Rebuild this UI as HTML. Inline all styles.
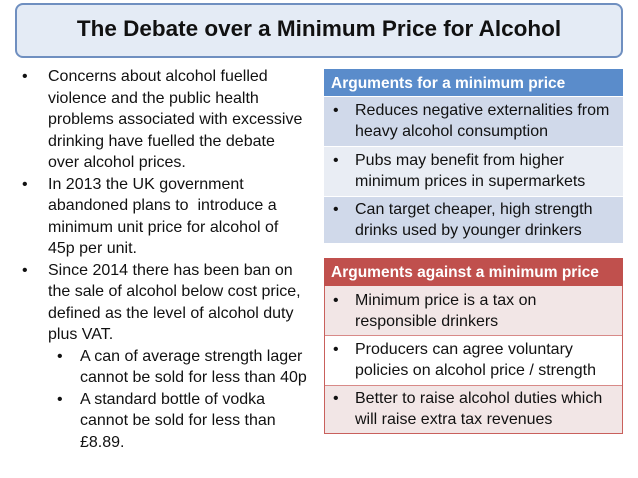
<!DOCTYPE html>
<html><head><meta charset="utf-8"><style>
body{margin:0;width:638px;height:478px;background:#fff;position:relative;overflow:hidden;font-family:"Liberation Sans",sans-serif;color:#111}
.t{position:absolute;white-space:nowrap;font-size:16px;line-height:21px}
.box{position:absolute;box-sizing:border-box}
</style></head><body>
<div class="box" style="left:15px;top:3px;width:608px;height:55px;border:2px solid #6f8fc0;border-radius:8px;background:#e4ebf5"></div>
<div class="t" style="left:15px;top:16px;width:608px;text-align:center;font-size:22.5px;font-weight:bold;line-height:26px">The Debate over a Minimum Price for Alcohol</div>

<div>
<div class="t" style="left:22px;top:66px">•</div>
<div class="t" style="left:48px;top:66px">Concerns about alcohol fuelled</div>
<div class="t" style="left:48px;top:88px">violence and the public health</div>
<div class="t" style="left:48px;top:109px">problems associated with excessive</div>
<div class="t" style="left:48px;top:131px">drinking have fuelled the debate</div>
<div class="t" style="left:48px;top:152px">over alcohol prices.</div>
<div class="t" style="left:22px;top:174px">•</div>
<div class="t" style="left:48px;top:174px">In 2013 the UK government</div>
<div class="t" style="left:48px;top:195px">abandoned plans to &nbsp;introduce a</div>
<div class="t" style="left:48px;top:217px">minimum unit price for alcohol of</div>
<div class="t" style="left:48px;top:238px">45p per unit.</div>
<div class="t" style="left:22px;top:260px">•</div>
<div class="t" style="left:48px;top:260px">Since 2014 there has been ban on</div>
<div class="t" style="left:48px;top:281px">the sale of alcohol below cost price,</div>
<div class="t" style="left:48px;top:303px">defined as the level of alcohol duty</div>
<div class="t" style="left:48px;top:324px">plus VAT.</div>
<div class="t" style="left:57px;top:346px">•</div>
<div class="t" style="left:80px;top:346px">A can of average strength lager</div>
<div class="t" style="left:80px;top:367px">cannot be sold for less than 40p</div>
<div class="t" style="left:57px;top:389px">•</div>
<div class="t" style="left:80px;top:389px">A standard bottle of vodka</div>
<div class="t" style="left:80px;top:410px">cannot be sold for less than</div>
<div class="t" style="left:80px;top:432px">£8.89.</div>
</div>

<div class="box" style="left:324px;top:69px;width:299px;height:27px;background:#5a8ccb"></div>
<div class="t" style="left:331px;top:73px;color:#fff;font-weight:bold;font-size:15.5px">Arguments for a minimum price</div>
<div class="box" style="left:324px;top:97px;width:299px;height:49px;background:#d0d9ea"></div>
<div class="box" style="left:324px;top:147px;width:299px;height:49px;background:#e9edf4"></div>
<div class="box" style="left:324px;top:197px;width:299px;height:46px;background:#d0d9ea"></div>
<div class="t" style="left:333px;top:100px">•</div><div class="t" style="left:355px;top:100px">Reduces negative externalities from</div>
<div class="t" style="left:355px;top:121px">heavy alcohol consumption</div>
<div class="t" style="left:333px;top:150px">•</div><div class="t" style="left:355px;top:150px">Pubs may benefit from higher</div>
<div class="t" style="left:355px;top:171px">minimum prices in supermarkets</div>
<div class="t" style="left:333px;top:199px">•</div><div class="t" style="left:355px;top:199px">Can target cheaper, high strength</div>
<div class="t" style="left:355px;top:220px">drinks used by younger drinkers</div>

<div class="box" style="left:324px;top:258px;width:299px;height:176px;border:1px solid #c9605c;background:#fff"></div>
<div class="box" style="left:324px;top:258px;width:299px;height:28px;background:#c0504d"></div>
<div class="t" style="left:331px;top:262px;color:#fff;font-weight:bold;font-size:15.5px">Arguments against a minimum price</div>
<div class="box" style="left:325px;top:286px;width:297px;height:50px;background:#f2e6e6;border-bottom:1px solid #d88a88"></div>
<div class="box" style="left:325px;top:385px;width:297px;height:48px;background:#f2e6e6;border-top:1px solid #d88a88"></div>
<div class="t" style="left:333px;top:290px">•</div><div class="t" style="left:355px;top:290px">Minimum price is a tax on</div>
<div class="t" style="left:355px;top:311px">responsible drinkers</div>
<div class="t" style="left:333px;top:339px">•</div><div class="t" style="left:355px;top:339px">Producers can agree voluntary</div>
<div class="t" style="left:355px;top:360px">policies on alcohol price / strength</div>
<div class="t" style="left:333px;top:388px">•</div><div class="t" style="left:355px;top:388px">Better to raise alcohol duties which</div>
<div class="t" style="left:355px;top:409px">will raise extra tax revenues</div>
</body></html>
